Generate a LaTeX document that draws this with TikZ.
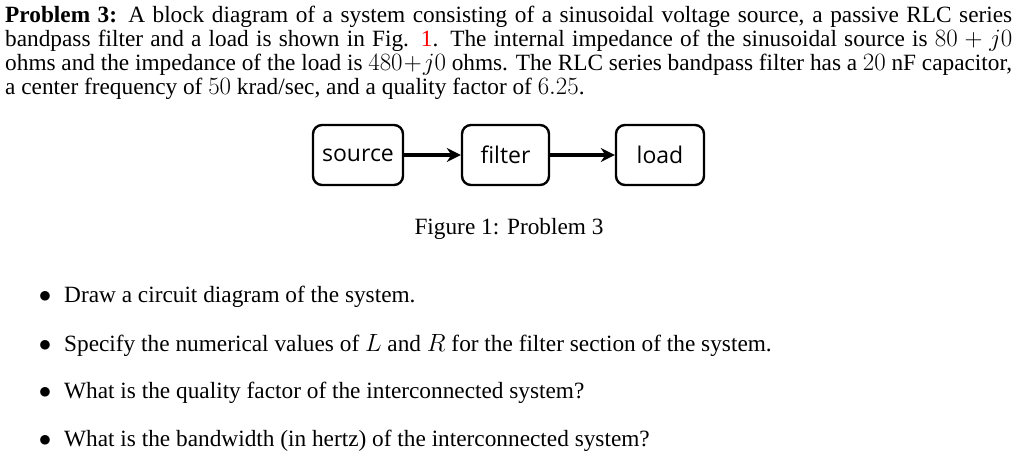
\documentclass[tikz,border=0pt]{standalone}
\usepackage{fontspec}
\setmainfont{Liberation Serif}
\newfontfamily\blk{Open Sans}
\usetikzlibrary{arrows.meta}
\begin{document}
\begin{tikzpicture}[x=1pt,y=-1pt,
  line/.style={anchor=west,inner sep=0pt,font=\fontsize{23.3}{24}\selectfont},
  blk/.style={draw,line width=2.4pt,rounded corners=9pt,minimum height=60pt,font=\blk\fontsize{23}{24}\selectfont,inner sep=0pt},
  arr/.style={line width=3.5pt,-{Stealth[length=14pt,width=14pt]}}]
\useasboundingbox (0,0) rectangle (1017,454);
\node[line] (l1) at (5,17) {\makebox[1007pt][s]{\textbf{Problem 3:} A block diagram of a system consisting of a sinusoidal voltage source, a passive RLC series}};
\node[line] (l2) at (5,41) {\makebox[1007pt][s]{bandpass filter and a load is shown in Fig. \textcolor{red}{1}. The internal impedance of the sinusoidal source is $80+j0$}};
\node[line] (l3) at (5,65) {\makebox[1007pt][s]{ohms and the impedance of the load is $480\!+\!j0$ ohms. The RLC series bandpass filter has a $20$ nF capacitor,}};
\node[line] (l4) at (5,89) {a center frequency of $50$ krad/sec, and a quality factor of $6.25$.};
\node[blk,minimum width=90pt] (src) at (358,155) {source};
\node[blk,minimum width=87pt] (flt) at (505.5,155) {filter};
\node[blk,minimum width=88pt] (ld) at (660,155) {load};
\draw[arr] (src) -- (flt);
\draw[arr] (flt) -- (ld);
\node[line,anchor=center] (cap) at (509,229) {Figure 1: Problem 3};
\foreach \y/\t/\n in {297/{Draw a circuit diagram of the system.}/b1,
  346/{Specify the numerical values of $L$ and $R$ for the filter section of the system.}/b2,
  393/{What is the quality factor of the interconnected system?}/b3,
  441/{What is the bandwidth (in hertz) of the interconnected system?}/b4}{
  \node[line] (\n) at (64,\y) {\t};
  \node[line,anchor=center] (\n d) at (45,\y) {$\bullet$};
}
\end{tikzpicture}
\end{document}
